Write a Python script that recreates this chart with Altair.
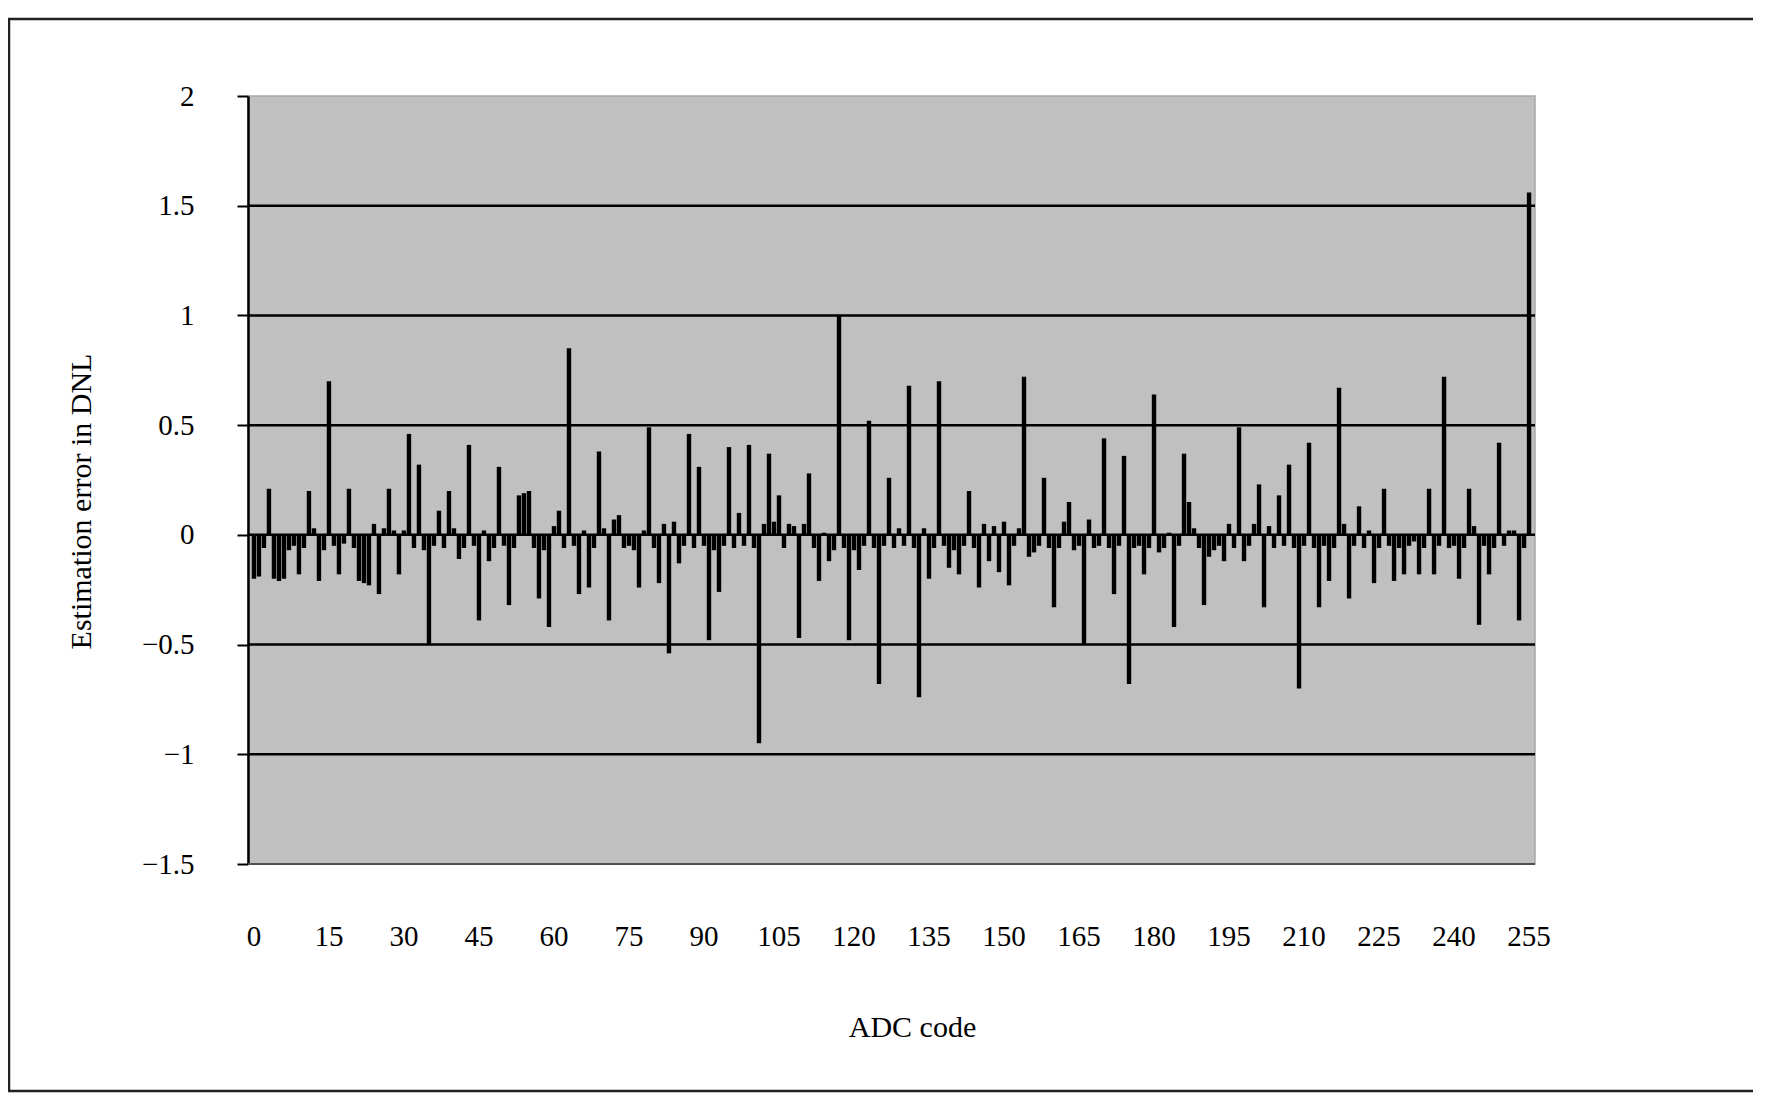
import altair as alt
import pandas as pd

# DNL estimation error per ADC code
dnl_error = [
    -0.20, -0.19, -0.06, 0.21, -0.20, -0.21, -0.20, -0.07, -0.05, -0.18, -0.06, 0.20, 0.03, -0.21, -0.07, 0.70,
    -0.05, -0.18, -0.04, 0.21, -0.06, -0.21, -0.22, -0.23, 0.05, -0.27, 0.03, 0.21, 0.02, -0.18, 0.02, 0.46,
    -0.06, 0.32, -0.07, -0.50, -0.05, 0.11, -0.06, 0.20, 0.03, -0.11, -0.06, 0.41, -0.05, -0.39, 0.02, -0.12,
    -0.06, 0.31, -0.05, -0.32, -0.06, 0.18, 0.19, 0.20, -0.06, -0.29, -0.07, -0.42, 0.04, 0.11, -0.06, 0.85,
    -0.05, -0.27, 0.02, -0.24, -0.06, 0.38, 0.03, -0.39, 0.07, 0.09, -0.06, -0.05, -0.07, -0.24, 0.02, 0.49,
    -0.06, -0.22, 0.05, -0.54, 0.06, -0.13, -0.05, 0.46, -0.06, 0.31, -0.05, -0.48, -0.07, -0.26, -0.05, 0.40,
    -0.06, 0.10, -0.05, 0.41, -0.06, -0.95, 0.05, 0.37, 0.06, 0.18, -0.06, 0.05, 0.04, -0.47, 0.05, 0.28,
    -0.06, -0.21, 0.01, -0.12, -0.07, 1.00, -0.06, -0.48, -0.07, -0.16, -0.05, 0.52, -0.06, -0.68, -0.05, 0.26,
    -0.06, 0.03, -0.05, 0.68, -0.06, -0.74, 0.03, -0.20, -0.06, 0.70, -0.05, -0.15, -0.07, -0.18, -0.05, 0.20,
    -0.06, -0.24, 0.05, -0.12, 0.04, -0.17, 0.06, -0.23, -0.05, 0.03, 0.72, -0.10, -0.08, -0.05, 0.26, -0.06,
    -0.33, -0.06, 0.06, 0.15, -0.07, -0.05, -0.50, 0.07, -0.06, -0.05, 0.44, -0.06, -0.27, -0.05, 0.36, -0.68,
    -0.06, -0.05, -0.18, -0.06, 0.64, -0.08, -0.06, 0.01, -0.42, -0.05, 0.37, 0.15, 0.03, -0.06, -0.32, -0.10,
    -0.07, -0.05, -0.12, 0.05, -0.06, 0.49, -0.12, -0.05, 0.05, 0.23, -0.33, 0.04, -0.06, 0.18, -0.05, 0.32,
    -0.06, -0.70, -0.05, 0.42, -0.06, -0.33, -0.05, -0.21, -0.06, 0.67, 0.05, -0.29, -0.05, 0.13, -0.06, 0.02,
    -0.22, -0.06, 0.21, -0.05, -0.21, -0.06, -0.18, -0.05, -0.03, -0.18, -0.06, 0.21, -0.18, -0.05, 0.72, -0.06,
    -0.05, -0.20, -0.06, 0.21, 0.04, -0.41, -0.05, -0.18, -0.06, 0.42, -0.05, 0.02, 0.02, -0.39, -0.06, 1.56,
]
adc_codes = list(range(256))
x_tick_labels = [0, 15, 30, 45, 60, 75, 90, 105, 120, 135, 150, 165, 180, 195, 210, 225, 240, 255]
y_tick_values = [-1.5, -1, -0.5, 0, 0.5, 1, 1.5, 2]
grid_levels = [-1, -0.5, 0, 0.5, 1, 1.5]
bottom_level = [-1.5]

df = pd.DataFrame({"code": adc_codes, "err": dnl_error})
grid_df = pd.DataFrame({"y": grid_levels})
bottom_df = pd.DataFrame({"y": bottom_level})
frame_df = pd.DataFrame({"k": [0]})

W, H = 1287, 768
FONT = "Liberation Serif"

y_scale = alt.Scale(domain=[-1.5, 2], nice=False, zero=False)

x_enc = alt.X(
    "code:O",
    sort=None,
    scale=alt.Scale(paddingInner=0.12, paddingOuter=0.75),
    axis=alt.Axis(
        values=x_tick_labels,
        title="ADC code",
        domain=False,
        ticks=False,
        labelAngle=0,
        labelPadding=58,
        labelFontSize=29,
        titleFontSize=30,
        titleX=664,
        titleY=163,
        titleBaseline="middle",
        titleAlign="center",
    ),
)

y_enc = alt.Y(
    "err:Q",
    scale=y_scale,
    axis=alt.Axis(
        values=y_tick_values,
        format="~g",
        title="Estimation error in DNL",
        grid=False,
        domainColor="black",
        domainWidth=2.5,
        tickColor="black",
        tickWidth=2,
        tickSize=11,
        labelPadding=43,
        labelFontSize=29,
        titleFontSize=30,
        titleAngle=-90,
        titleX=-152,
        titleY=405,
        titleBaseline="bottom",
        titleAlign="center",
    ),
)

grid = alt.Chart(grid_df).mark_rule(color="black", strokeWidth=2.5).encode(
    y=alt.Y("y:Q", scale=y_scale)
)
bottom = alt.Chart(bottom_df).mark_rule(color="#505050", strokeWidth=2).encode(
    y=alt.Y("y:Q", scale=y_scale)
)
bars = alt.Chart(df).mark_bar(color="black").encode(x=x_enc, y=y_enc)

frame = alt.Chart(frame_df).mark_rect(
    filled=False, stroke="#222222", strokeWidth=2.5
).encode(
    x=alt.value(-239), x2=alt.value(1507), y=alt.value(-77), y2=alt.value(995)
)

chart = (
    alt.layer(grid, bottom, bars, frame)
    .resolve_scale(y="shared")
    .properties(
        width=W,
        height=H,
        autosize=alt.AutoSizeParams(type="none"),
        padding={"left": 240, "top": 88, "right": 218, "bottom": 232},
        background="white",
    )
    .configure_view(fill="#c0c0c0", stroke="#a8a8a8", strokeWidth=1.5)
    .configure_axis(
        labelFont=FONT,
        titleFont=FONT,
        labelColor="black",
        titleColor="black",
        titleFontWeight="normal",
    )
)

chart.save("out.html", embed_options={"renderer": "svg", "actions": False})
